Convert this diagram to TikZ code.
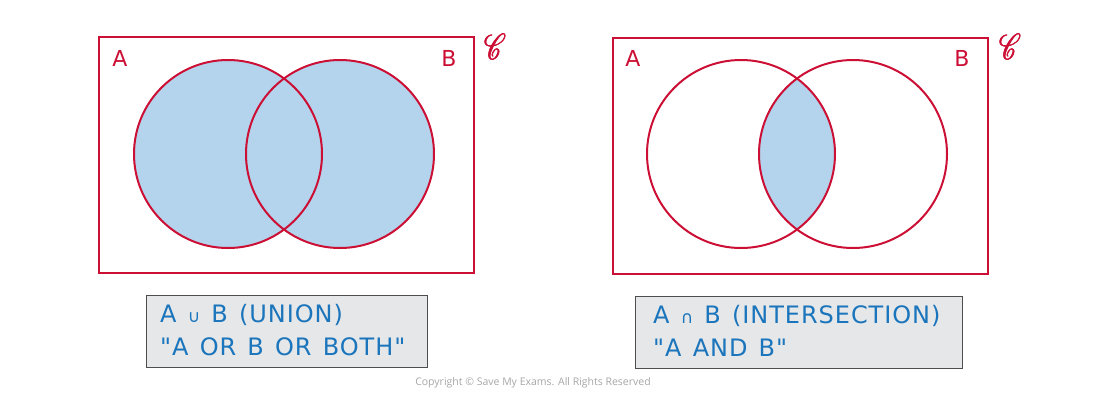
\documentclass[tikz,border=0pt]{standalone}
\usepackage{fontspec}
\usepackage{mathrsfs}
\usepackage{graphicx}
\newfontfamily\hand[LetterSpace=4,WordSpace=1.3]{DejaVu Sans}
\newfontfamily\setfont{DejaVu Sans}
\newfontfamily\copyfont{Open Sans}
\definecolor{vred}{HTML}{CC0F35}
\definecolor{vblue}{HTML}{B3D4EC}
\definecolor{tblue}{HTML}{1B75BC}
\definecolor{boxfill}{HTML}{E6E7E8}
\definecolor{boxline}{HTML}{4D4D4D}
\newcommand\heavyglyph[1]{\rlap{#1}\rlap{\raisebox{0.5pt}{#1}}\kern0.6pt\rlap{#1}\raisebox{0.5pt}{#1}}
\begin{document}
\begin{tikzpicture}[x=1pt,y=-1pt,
  frame/.style={draw=vred,line width=2pt,minimum width=375,minimum height=236,anchor=north west,inner sep=0pt},
  setline/.style={draw=vred,line width=2pt},
  setlabel/.style={text=vred,font=\setfont\fontsize{22}{22}\selectfont,inner sep=0pt},
  univ/.style={text=vred,font=\fontsize{36}{36}\selectfont,inner sep=0pt},
  labelbox/.style={draw=boxline,fill=boxfill,line width=1.2pt,anchor=north west,inner sep=0pt},
  labeltext/.style={text=tblue,font=\hand\fontsize{24}{24}\selectfont,anchor=base west,inner sep=0pt},
  copy/.style={text=black!35,font=\copyfont\fontsize{10.5}{12}\selectfont,inner sep=0pt}]
\useasboundingbox (0,0) rectangle (1100,405);
% ---------- union diagram ----------
\coordinate (UA) at (228,154);
\coordinate (UB) at (340,154);
\fill[vblue] (UA) circle (94) (UB) circle (94);
\draw[setline] (UA) circle (94);
\draw[setline] (UB) circle (94);
\node[frame] (U) at (98,36) {};
\node[setlabel] (UlA) at (120,58) {A};
\node[setlabel] (UlB) at (449,58) {B};
\node[univ] (UE) at (495,47) {\scalebox{1.05}[1.45]{\heavyglyph{$\mathscr{C}$}}};
% ---------- intersection diagram ----------
\coordinate (IA) at (741,154);
\coordinate (IB) at (853,154);
\begin{scope}
  \clip (IA) circle (94);
  \fill[vblue] (IB) circle (94);
\end{scope}
\draw[setline] (IA) circle (94);
\draw[setline] (IB) circle (94);
\node[frame] (I) at (612,37) {};
\node[setlabel] (IlA) at (633,58) {A};
\node[setlabel] (IlB) at (962,58) {B};
\node[univ] (IE) at (1010,47) {\scalebox{1.05}[1.45]{\heavyglyph{$\mathscr{C}$}}};
% ---------- label boxes ----------
\node[labelbox,minimum width=281,minimum height=72] (Lu) at (146,295) {};
\node[labeltext] (Tu1) at (160,322) {A {\fontsize{17}{17}\selectfont ∪} B (UNION)};
\node[labeltext] (Tu2) at (160,355) {"A OR B OR BOTH"};
\node[labelbox,minimum width=327,minimum height=72] (Li) at (635,296) {};
\node[labeltext] (Ti1) at (653,323) {A {\fontsize{17}{17}\selectfont ∩} B (INTERSECTION)};
\node[labeltext] (Ti2) at (653,356) {"A AND B"};
% ---------- copyright ----------
\node[copy] (cp) at (533,383) {Copyright © Save My Exams. All Rights Reserved};
\end{tikzpicture}
\end{document}
